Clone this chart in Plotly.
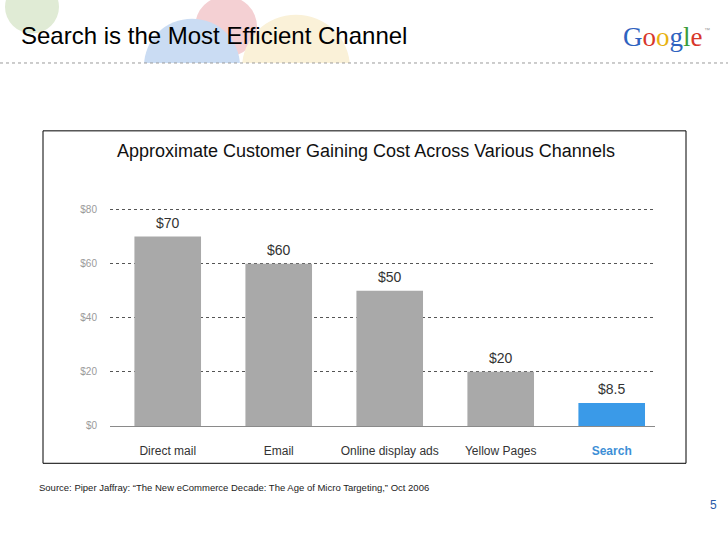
import plotly.graph_objects as go

# ---- data ----
categories = ["Direct mail", "Email", "Online display ads", "Yellow Pages", "Search"]
costs = [70, 60, 50, 20, 8.5]
value_labels = ["$70", "$60", "$50", "$20", "$8.5"]
y_tickvals = [0, 20, 40, 60, 80]
y_ticktext = ["$0", "$20", "$40", "$60", "$80"]

W, H = 728, 546
GRAY = "#a9a9a9"
BLUE = "#3a9ae8"


def px(x):
    return x / W


def py(y):
    return 1 - y / H


bar_colors = [BLUE if c == "Search" else GRAY for c in categories]
tick_text = [
    "<b><span style='color:#3d8fd6'>%s</span></b>" % c if c == "Search" else c
    for c in categories
]

fig = go.Figure()
fig.add_trace(go.Bar(
    x=categories, y=costs, width=0.6,
    marker=dict(color=bar_colors, line=dict(width=0)),
    hoverinfo="skip", showlegend=False,
))

annotations = []
for c, v, t in zip(categories, costs, value_labels):
    annotations.append(dict(
        x=c, y=v, xref="x", yref="y", text=t, showarrow=False,
        yanchor="bottom", yshift=4,
        font=dict(family="Liberation Sans, Arial", size=14, color="#333333"),
    ))

# slide texts
annotations += [
    dict(x=px(19), y=py(33), xref="paper", yref="paper", xanchor="left", yanchor="middle",
         text="Search is the Most Efficient Channel", showarrow=False,
         font=dict(family="Liberation Sans, Arial", size=24, color="#000000")),
    dict(x=px(663), y=py(35), xref="paper", yref="paper", xanchor="center", yanchor="middle",
         text=("<span style='color:#2f63c0'>G</span><span style='color:#d8372b'>o</span>"
               "<span style='color:#e8b210'>o</span><span style='color:#2f63c0'>g</span>"
               "<span style='color:#3a9b3a'>l</span><span style='color:#d8372b'>e</span>"),
         showarrow=False,
         font=dict(family="Liberation Serif, Times New Roman", size=27, color="#2f63c0")),
    dict(x=px(702), y=py(27), xref="paper", yref="paper", xanchor="left", yanchor="middle",
         text="™", showarrow=False,
         font=dict(family="Liberation Sans, Arial", size=6, color="#999999")),
    dict(x=px(366), y=py(150), xref="paper", yref="paper", xanchor="center", yanchor="middle",
         text="Approximate Customer Gaining Cost Across Various Channels", showarrow=False,
         font=dict(family="Liberation Sans, Arial", size=18, color="#111111")),
    dict(x=px(37), y=py(493), xref="paper", yref="paper", xanchor="left", yanchor="middle",
         text="Source: Piper Jaffray: \u201cThe New eCommerce Decade: The Age of Micro Targeting,\u201d Oct 2006",
         showarrow=False,
         font=dict(family="Liberation Sans, Arial", size=9.5, color="#222222")),
    dict(x=px(713), y=py(510), xref="paper", yref="paper", xanchor="center", yanchor="middle",
         text="5", showarrow=False,
         font=dict(family="Liberation Sans, Arial", size=12, color="#2a5aa8")),
]


def circle(cx, cy, r, color):
    return dict(type="circle", xref="paper", yref="paper", layer="below",
                x0=px(cx - r), x1=px(cx + r), y0=py(cy + r), y1=py(cy - r),
                fillcolor=color, line=dict(width=0))


shapes = [
    circle(32, 4, 27, "#e0ebd5"),
    circle(226, 24, 31, "#f4d0d3"),
    circle(192, 64, 48, "#cadcf3"),
    circle(296, 66, 54, "#faf1d8"),
    # white cover below the header separator
    dict(type="rect", xref="paper", yref="paper", layer="below",
         x0=0, x1=1, y0=0, y1=py(61), fillcolor="#ffffff", line=dict(width=0)),
    # header separator
    dict(type="line", xref="paper", yref="paper", x0=0, x1=1, y0=py(61), y1=py(61),
         line=dict(color="#9a9a9a", width=1, dash="dot")),
    # chart box
    dict(type="rect", xref="paper", yref="paper", x0=px(43), x1=px(686), y0=py(468), y1=py(130),
         line=dict(color="#000000", width=1), fillcolor="rgba(0,0,0,0)"),
]

# y: $0 at 430 px, $80 at 210 px -> 2.75 px per unit; extend range slightly so the $80 grid shows
Y_TOP = 81
fig.update_layout(
    width=W, height=H, autosize=False,
    margin=dict(l=0, r=0, t=0, b=0, pad=0),
    paper_bgcolor="#ffffff", plot_bgcolor="rgba(0,0,0,0)",
    annotations=annotations, shapes=shapes,
    xaxis=dict(
        domain=[px(110), px(655)], range=[-0.52, 4.39],
        tickmode="array", tickvals=categories, ticktext=tick_text,
        showgrid=False, showline=True, linecolor="#8a8a8a", linewidth=1,
        ticks="", ticklabelstandoff=14, zeroline=False,
        tickfont=dict(family="Liberation Sans, Arial", size=12, color="#333333"),
    ),
    yaxis=dict(
        domain=[py(430), py(430 - 2.75 * Y_TOP)], range=[0, Y_TOP],
        tickmode="array", tickvals=y_tickvals, ticktext=y_ticktext,
        showgrid=True, gridcolor="#555555", griddash="dot", gridwidth=1,
        zeroline=False, showline=False, ticks="", ticklabelstandoff=12,
        tickfont=dict(family="Liberation Sans, Arial", size=10, color="#9a9a9a"),
    ),
)

fig.write_html("out.html")
